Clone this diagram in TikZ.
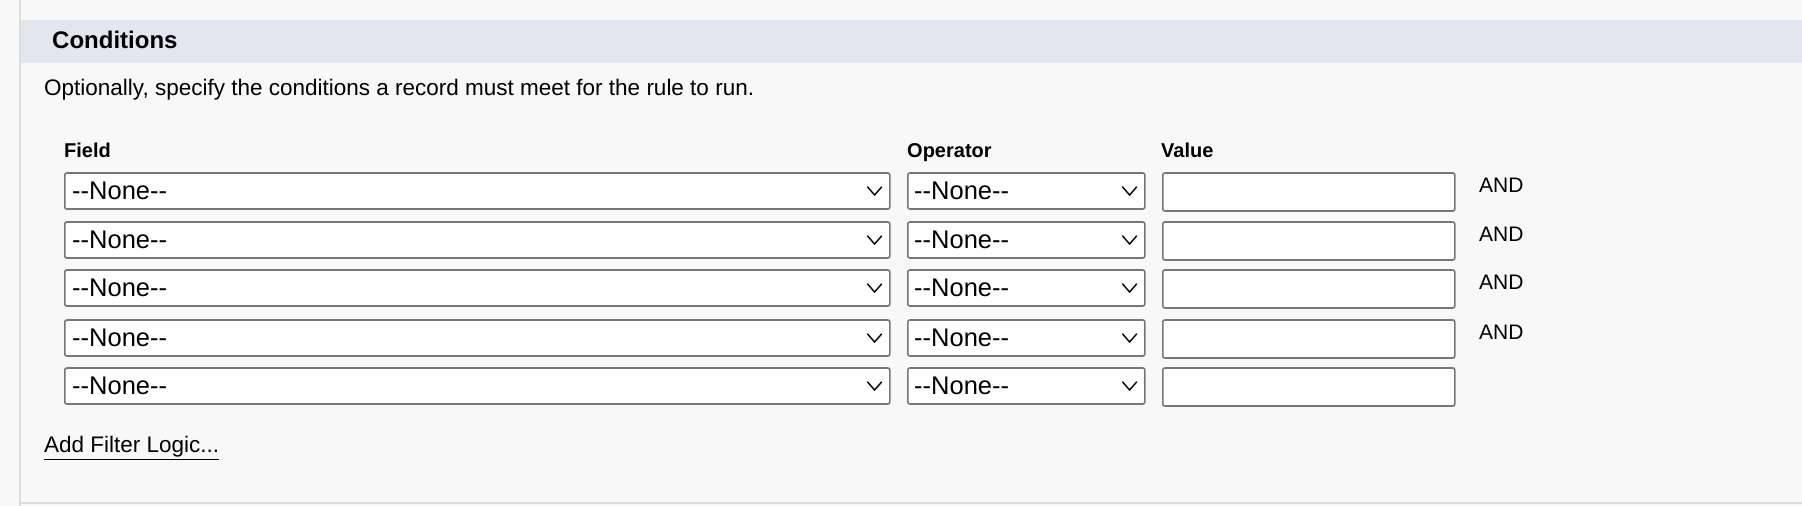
\documentclass[tikz,border=0pt]{standalone}
\usepackage{fontspec}
\setmainfont{Liberation Sans}
\definecolor{pagebg}{HTML}{F8F8F8}
\definecolor{bandbg}{HTML}{E3E6EE}
\definecolor{boxline}{HTML}{777777}
\definecolor{rule}{HTML}{DDDDDD}
\begin{document}
\begin{tikzpicture}[x=1pt,y=-1pt,
		selectbox/.style={rectangle,draw=boxline,line width=1.6pt,fill=white,rounded corners=2pt,anchor=west,inner sep=0pt,minimum height=36pt},
		valuebox/.style={rectangle,draw=boxline,line width=1.6pt,fill=white,rounded corners=2pt,anchor=west,inner sep=0pt,minimum height=38pt,minimum width=292pt},
		header/.style={anchor=base west,font=\bfseries\fontsize{20}{24}\selectfont,inner sep=0pt},
		plain/.style={anchor=west,font=\fontsize{22.5}{26}\selectfont,inner sep=0pt},
		none/.style={anchor=west,font=\fontsize{25.5}{30}\selectfont,inner sep=0pt},
		chevron/.style={line width=1.4pt,line cap=round}]
	\useasboundingbox (0,0) rectangle (1802,506);
	\fill[pagebg] (0,0) rectangle (1802,506);
	\draw[rule,line width=2pt] (19.5,0) -- (19.5,506);
	\draw[rule,line width=2pt] (19.5,503) -- (1802,503);
	\fill[bandbg] (20.5,19.5) rectangle (1802,63);
	\node[header,font=\bfseries\fontsize{24}{28}\selectfont] (title) at (52,48) {Conditions};
	\node[plain] (intro) at (44,90) {Optionally, specify the conditions a record must meet for the rule to run.};
	\node[header] (hfield) at (64,157) {Field};
	\node[header] (hop) at (907,157) {Operator};
	\node[header] (hval) at (1161,157) {Value};
	\foreach \i/\y in {1/191,2/240,3/288,4/338,5/386}{
		\node[selectbox,minimum width=825pt] (field\i) at (64,\y) {};
		\node[none] (fieldtext\i) at (72,\y) {-{}-None-{}-};
		\draw[chevron] ([xshift=-23pt,yshift=4pt]field\i.east) -- ([xshift=-16pt,yshift=-4pt]field\i.east) -- ([xshift=-9pt,yshift=4pt]field\i.east);
		\node[selectbox,minimum width=237pt] (op\i) at (907,\y) {};
		\node[none] (optext\i) at (914,\y) {-{}-None-{}-};
		\draw[chevron] ([xshift=-23pt,yshift=4pt]op\i.east) -- ([xshift=-16pt,yshift=-4pt]op\i.east) -- ([xshift=-9pt,yshift=4pt]op\i.east);
		\node[valuebox] (val\i) at (1162,\y+1) {};
	}
	\foreach \i/\y in {1/185,2/234,3/282,4/332}{
		\node[plain,font=\fontsize{21}{25}\selectfont] (and\i) at (1479,\y) {AND};
	}
	\node[plain] (logic) at (44,448) {\underline{Add Filter Logic...}};
\end{tikzpicture}
\end{document}
